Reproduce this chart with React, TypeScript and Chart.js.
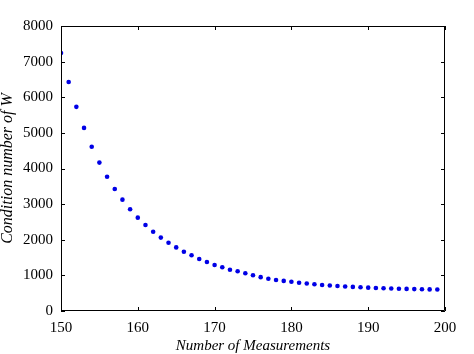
import React, { useEffect, useRef } from "react";
import { Chart, registerables } from "chart.js";

Chart.register(...registerables);

const measurements: number[] = [
  150, 151, 152, 153, 154, 155, 156, 157, 158, 159,
  160, 161, 162, 163, 164, 165, 166, 167, 168, 169,
  170, 171, 172, 173, 174, 175, 176, 177, 178, 179,
  180, 181, 182, 183, 184, 185, 186, 187, 188, 189,
  190, 191, 192, 193, 194, 195, 196, 197, 198, 199,
];

const conditionNumbers: number[] = [
  7240, 6430, 5730, 5140, 4610, 4165, 3770, 3425, 3125, 2855,
  2620, 2415, 2225, 2060, 1915, 1785, 1665, 1563, 1460, 1375,
  1291, 1226, 1160, 1114, 1058, 1002, 950, 907, 870, 845,
  820, 795, 770, 750, 730, 715, 700, 688, 676, 665,
  655, 646, 638, 631, 625, 620, 615, 611, 607, 604,
];

const xTicks: number[] = [150, 160, 170, 180, 190, 200];
const yTicks: number[] = [0, 1000, 2000, 3000, 4000, 5000, 6000, 7000, 8000];

const FONT = "'Liberation Serif', 'Times New Roman', serif";

const framePlugin = {
  id: "frame",
  afterDraw(chart: any) {
    const { ctx, chartArea } = chart;
    const { left, right, top, bottom } = chartArea;
    const xs = chart.scales.x;
    const ys = chart.scales.y;
    const len = 4;
    ctx.save();
    ctx.strokeStyle = "#000";
    ctx.lineWidth = 1;
    ctx.beginPath();
    ctx.rect(left + 0.5, top + 0.5, right - left - 1, bottom - top - 1);
    xTicks.forEach((v) => {
      const px = Math.round(xs.getPixelForValue(v)) + 0.5;
      ctx.moveTo(px, bottom);
      ctx.lineTo(px, bottom - len);
      ctx.moveTo(px, top);
      ctx.lineTo(px, top + len);
    });
    yTicks.forEach((v) => {
      const py = Math.round(ys.getPixelForValue(v)) + 0.5;
      ctx.moveTo(left, py);
      ctx.lineTo(left + len, py);
      ctx.moveTo(right, py);
      ctx.lineTo(right - len, py);
    });
    ctx.stroke();
    ctx.restore();
  },
};

export default function App() {
  const ref = useRef<HTMLCanvasElement | null>(null);

  useEffect(() => {
    document.body.style.margin = "0";
    const canvas = ref.current;
    if (!canvas) return;
    const chart = new Chart(canvas, {
      type: "scatter",
      data: {
        datasets: [
          {
            data: measurements.map((m, i) => ({ x: m, y: conditionNumbers[i] })),
            backgroundColor: "#0000e6",
            borderColor: "#0000e6",
            pointRadius: 2.3,
            pointBorderWidth: 0,
          },
        ],
      },
      options: {
        animation: false,
        responsive: false,
        maintainAspectRatio: false,
        layout: { padding: { top: 26, right: 29, left: 0, bottom: 0 } },
        plugins: {
          legend: { display: false },
          tooltip: { enabled: false },
        },
        scales: {
          x: {
            type: "linear",
            min: 150,
            max: 200,
            afterBuildTicks: (scale: any) => {
              scale.ticks = xTicks.map((v) => ({ value: v }));
            },
            afterFit: (scale: any) => {
              scale.height = 43;
            },
            grid: { display: false, drawTicks: false },
            border: { display: false },
            ticks: {
              padding: 8,
              color: "#000",
              font: { family: FONT, size: 15 },
              maxRotation: 0,
            },
            title: {
              display: true,
              text: "Number of Measurements",
              color: "#000",
              font: { family: FONT, size: 15, style: "italic", lineHeight: 1 },
              padding: { top: 0, bottom: 0 },
            },
          },
          y: {
            type: "linear",
            min: 0,
            max: 8000,
            afterBuildTicks: (scale: any) => {
              scale.ticks = yTicks.map((v) => ({ value: v }));
            },
            afterFit: (scale: any) => {
              scale.width = 61;
            },
            grid: { display: false, drawTicks: false },
            border: { display: false },
            ticks: {
              padding: 8,
              color: "#000",
              font: { family: FONT, size: 15 },
              callback: (v: any) => String(v),
            },
            title: {
              display: true,
              text: "Condition number of W",
              color: "#000",
              font: { family: FONT, size: 16, style: "italic", lineHeight: 1 },
              padding: { top: 0, bottom: 0 },
            },
          },
        },
      },
      plugins: [framePlugin],
    });
    return () => chart.destroy();
  }, []);

  return (
    <div style={{ width: 474, height: 354, background: "#fff" }}>
      <canvas ref={ref} width={474} height={354} style={{ display: "block" }} />
    </div>
  );
}
